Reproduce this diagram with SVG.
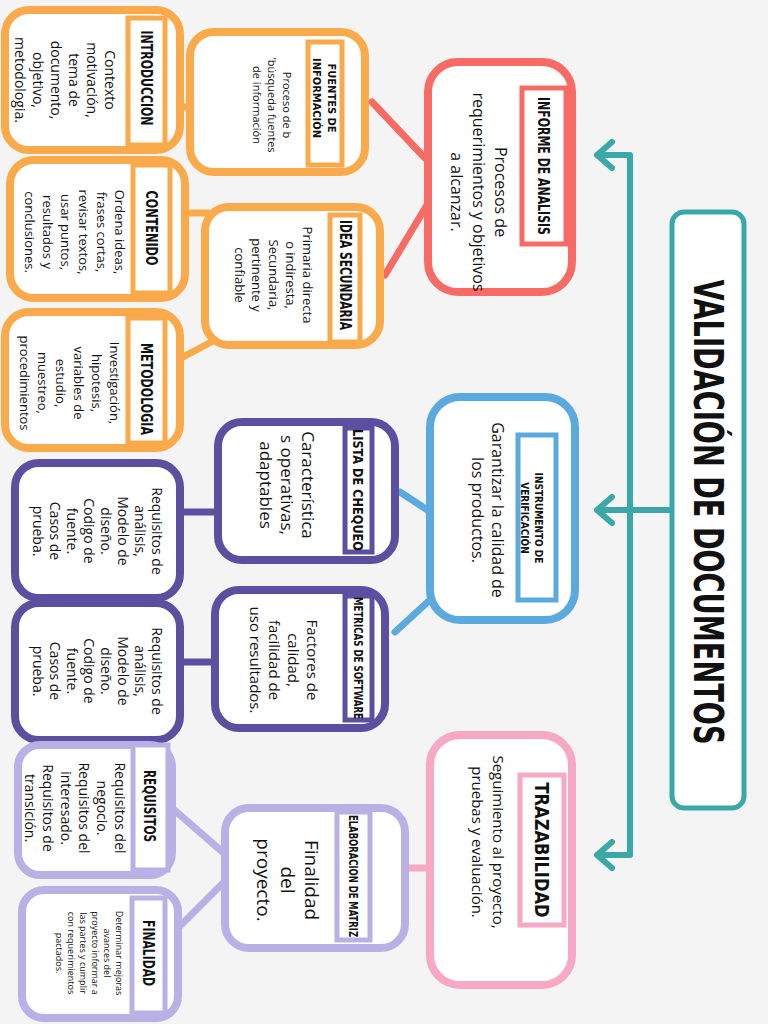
<svg xmlns="http://www.w3.org/2000/svg" width="768" height="1024" viewBox="0 0 768 1024">
<defs>
<style>
.b{fill:#fff;stroke-width:8;stroke-linejoin:round}
.t{fill:#fff;stroke-width:5}
.h{font-family:"DejaVu Sans Condensed","DejaVu Sans",sans-serif;font-weight:bold;fill:#111;text-anchor:middle}
.x{font-family:"Open Sans","Noto Sans",sans-serif;fill:#111;text-anchor:middle}
.or{stroke:#fbaa4b}.rd{stroke:#f86a64}.bl{stroke:#5aaae0}.pu{stroke:#5c4fa0}.lv{stroke:#b9b1e6}.pk{stroke:#f6a8c4}.tl{stroke:#3aa8a8}
</style>
</defs>
<rect width="768" height="1024" fill="#f4f4f4"/>
<g id="connectors" fill="none" stroke-linecap="round" stroke-linejoin="round">
<path class="tl" stroke-width="6" d="M630,155 V855 M672,510 H598 M630,155 H598 M630,855 H598"/>
<path class="tl" stroke-width="6" d="M612,142 L597,155 L612,168 M612,497 L597,510 L612,523 M612,842 L597,855 L612,868"/>
<path class="rd" stroke-width="7" d="M372,102 L425,158 M385,275 L430,200"/>
<path class="or" stroke-width="7" d="M180,107 H192 M185,213 H208 M183,357 L215,340"/>
<path class="bl" stroke-width="7" d="M432,513 L400,492 M432,598 L395,632"/>
<path class="pu" stroke-width="7" d="M180,512 H220 M180,662 H217"/>
<path class="pk" stroke-width="7" d="M432,868 H390"/>
<path class="lv" stroke-width="7" d="M172,808 L226,855 M178,928 L224,882"/>
</g>
<g id="central"><rect x="672" y="212" width="72" height="596" rx="12" fill="#fff" stroke="#3aa8a8" stroke-width="5"/>
<text class="h" font-size="40" transform="translate(694,512) rotate(90)" textLength="465" lengthAdjust="spacingAndGlyphs">VALIDACIÓN DE DOCUMENTOS</text></g>
<g id="informe"><rect class="b rd" x="428" y="62" width="144" height="230" rx="30"/><rect class="t rd" x="522" y="88" width="44" height="156"/>
<text class="h" font-size="16" transform="translate(538,166) rotate(90)" textLength="138" lengthAdjust="spacingAndGlyphs">INFORME DE ANALISIS</text>
<text class="x" font-size="16" transform="translate(495,192) rotate(90)"><tspan x="0">Procesos de</tspan><tspan x="0" dy="22">requerimientos y objetivos</tspan><tspan x="0" dy="22">a alcanzar.</tspan></text></g>
<g id="fuentes"><rect class="b or" x="190" y="32" width="175" height="140" rx="24"/><rect class="t or" x="308" y="42" width="34" height="123"/>
<text class="h" font-size="11" transform="translate(328,98) rotate(90)"><tspan x="0">FUENTES DE</tspan><tspan x="0" dy="15">INFORMACIÓN</tspan></text>
<text class="x" font-size="11" transform="translate(283,105) rotate(90)"><tspan x="0">Proceso de b</tspan><tspan x="0" dy="15">'búsqueda fuentes</tspan><tspan x="0" dy="15">de información</tspan></text></g>
<g id="idea"><rect class="b or" x="205" y="207" width="175" height="138" rx="24"/><rect class="t or" x="330" y="215" width="30" height="127"/>
<text class="h" font-size="15" transform="translate(340,275) rotate(90)" textLength="110" lengthAdjust="spacingAndGlyphs">IDEA SECUNDARIA</text>
<text class="x" font-size="13" transform="translate(303,275) rotate(90)"><tspan x="0">Primaria directa</tspan><tspan x="0" dy="17">o indiresta,</tspan><tspan x="0" dy="17">Secundaria,</tspan><tspan x="0" dy="17">pertinente y</tspan><tspan x="0" dy="17">confiable</tspan></text></g>
<g id="intro"><rect class="b or" x="5" y="10" width="175" height="140" rx="24"/><rect class="t or" x="128" y="18" width="37" height="127"/>
<text class="h" font-size="16" transform="translate(141,78) rotate(90)" textLength="95" lengthAdjust="spacingAndGlyphs">INTRODUCCION</text>
<text class="x" font-size="14" transform="translate(105,80) rotate(90)"><tspan x="0">Contexto</tspan><tspan x="0" dy="18">motivación,</tspan><tspan x="0" dy="18">tema de</tspan><tspan x="0" dy="18">documento,</tspan><tspan x="0" dy="18">objetivo,</tspan><tspan x="0" dy="18">metodologia.</tspan></text></g>
<g id="contenido"><rect class="b or" x="10" y="160" width="175" height="138" rx="24"/><rect class="t or" x="133" y="165" width="37" height="128"/>
<text class="h" font-size="16" transform="translate(146,228) rotate(90)" textLength="75" lengthAdjust="spacingAndGlyphs">CONTENIDO</text>
<text class="x" font-size="13" transform="translate(115,232) rotate(90)"><tspan x="0">Ordena ideas,</tspan><tspan x="0" dy="18">frases cortas,</tspan><tspan x="0" dy="18">revisar textos,</tspan><tspan x="0" dy="18">usar puntos,</tspan><tspan x="0" dy="18">resultados y</tspan><tspan x="0" dy="18">conclusiones.</tspan></text></g>
<g id="metodologia"><rect class="b or" x="5" y="312" width="175" height="136" rx="24"/><rect class="t or" x="128" y="318" width="37" height="125"/>
<text class="h" font-size="16" transform="translate(141,389) rotate(90)" textLength="92" lengthAdjust="spacingAndGlyphs">METODOLOGIA</text>
<text class="x" font-size="13" transform="translate(110,383) rotate(90)"><tspan x="0">Investigación,</tspan><tspan x="0" dy="18">hipotesis,</tspan><tspan x="0" dy="18">variables de</tspan><tspan x="0" dy="18">estudio,</tspan><tspan x="0" dy="18">muestreo,</tspan><tspan x="0" dy="18">procedimientos</tspan></text></g>
<g id="instrumento"><rect class="b bl" x="430" y="397" width="145" height="223" rx="30"/><rect class="t bl" x="518" y="435" width="38" height="165"/>
<text class="h" font-size="10" transform="translate(535,518) rotate(90)"><tspan x="0">INSTRUMENTO DE</tspan><tspan x="0" dy="14">VERIFICACIÓN</tspan></text>
<text class="x" font-size="16" transform="translate(492,510) rotate(90)"><tspan x="0">Garantizar la calidad de</tspan><tspan x="0" dy="20">los productos.</tspan></text></g>
<g id="lista"><rect class="b pu" x="218" y="422" width="177" height="138" rx="24"/><rect class="t pu" x="345" y="428" width="27" height="124"/>
<text class="h" font-size="14" transform="translate(353,490) rotate(90)" textLength="122" lengthAdjust="spacingAndGlyphs">LISTA DE CHEQUEO</text>
<text class="x" font-size="17" transform="translate(302,485) rotate(90)"><tspan x="0">Característica</tspan><tspan x="0" dy="21">s operativas,</tspan><tspan x="0" dy="21">adaptables</tspan></text></g>
<g id="metricas"><rect class="b pu" x="215" y="590" width="170" height="138" rx="24"/><rect class="t pu" x="345" y="596" width="27" height="124"/>
<text class="h" font-size="12" transform="translate(354,658) rotate(90)" textLength="122" lengthAdjust="spacingAndGlyphs">METRICAS DE SOFTWARE</text>
<text class="x" font-size="15" transform="translate(307,660) rotate(90)"><tspan x="0">Factores de</tspan><tspan x="0" dy="19">calidad,</tspan><tspan x="0" dy="19">facilidad de</tspan><tspan x="0" dy="19">uso resultados.</tspan></text></g>
<g id="req1"><rect class="b pu" x="15" y="463" width="165" height="135" rx="24"/>
<text class="x" font-size="14" transform="translate(152,531) rotate(90)"><tspan x="0">Requisitos de</tspan><tspan x="0" dy="17">análisis,</tspan><tspan x="0" dy="17">Modelo de</tspan><tspan x="0" dy="17">diseño.</tspan><tspan x="0" dy="17">Codigo de</tspan><tspan x="0" dy="17">fuente.</tspan><tspan x="0" dy="17">Casos de</tspan><tspan x="0" dy="17">prueba.</tspan></text></g>
<g id="req2"><rect class="b pu" x="15" y="603" width="165" height="137" rx="24"/>
<text class="x" font-size="14" transform="translate(152,671) rotate(90)"><tspan x="0">Requisitos de</tspan><tspan x="0" dy="17">análisis,</tspan><tspan x="0" dy="17">Modelo de</tspan><tspan x="0" dy="17">diseño.</tspan><tspan x="0" dy="17">Codigo de</tspan><tspan x="0" dy="17">fuente.</tspan><tspan x="0" dy="17">Casos de</tspan><tspan x="0" dy="17">prueba.</tspan></text></g>
<g id="trazabilidad"><rect class="b pk" x="430" y="735" width="142" height="250" rx="30"/><rect class="t pk" x="520" y="775" width="44" height="150"/>
<text class="h" font-size="20" transform="translate(535,850) rotate(90)" textLength="135" lengthAdjust="spacingAndGlyphs">TRAZABILIDAD</text>
<text class="x" font-size="15" transform="translate(493,842) rotate(90)"><tspan x="0">Seguimiento al proyecto,</tspan><tspan x="0" dy="21">pruebas y evaluación.</tspan></text></g>
<g id="matriz"><rect class="b lv" x="225" y="808" width="180" height="140" rx="24"/><rect class="t lv" x="337" y="812" width="33" height="128"/>
<text class="h" font-size="12" transform="translate(349,876) rotate(90)" textLength="122" lengthAdjust="spacingAndGlyphs">ELABORACION DE MATRIZ</text>
<text class="x" font-size="19" transform="translate(305,880) rotate(90)"><tspan x="0">Finalidad</tspan><tspan x="0" dy="24">del</tspan><tspan x="0" dy="24">proyecto.</tspan></text></g>
<g id="requisitos"><rect class="b lv" x="18" y="745" width="154" height="130" rx="22"/><rect class="t lv" x="133" y="745" width="35" height="125"/>
<text class="h" font-size="16" transform="translate(144,806) rotate(90)" textLength="72" lengthAdjust="spacingAndGlyphs">REQUISITOS</text>
<text class="x" font-size="14" transform="translate(115,808) rotate(90)"><tspan x="0">Requisitos del</tspan><tspan x="0" dy="18">negocio.</tspan><tspan x="0" dy="18">Requisitos del</tspan><tspan x="0" dy="18">interesado.</tspan><tspan x="0" dy="18">Requisitos de</tspan><tspan x="0" dy="18">transición.</tspan></text></g>
<g id="finalidad"><rect class="b lv" x="22" y="890" width="156" height="128" rx="22"/><rect class="t lv" x="132" y="898" width="33" height="115"/>
<text class="h" font-size="16" transform="translate(143,953) rotate(90)" textLength="66" lengthAdjust="spacingAndGlyphs">FINALIDAD</text>
<text class="x" font-size="9" transform="translate(116,953) rotate(90)"><tspan x="0">Determinar mejoras</tspan><tspan x="0" dy="12">avances del</tspan><tspan x="0" dy="12">proyecto informar a</tspan><tspan x="0" dy="12">las partes y cumplir</tspan><tspan x="0" dy="12">con requerimientos</tspan><tspan x="0" dy="12">pactados.</tspan></text></g>
</svg>
